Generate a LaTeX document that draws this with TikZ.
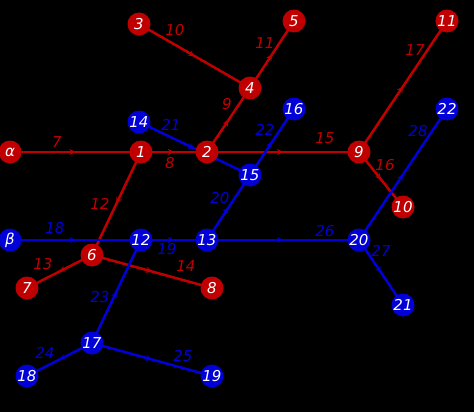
\documentclass[tikz,border=0pt]{standalone}
\usepackage{fontspec}
\setmainfont{DejaVu Sans}
\usetikzlibrary{decorations.markings,arrows.meta}
\definecolor{rd}{RGB}{192,0,0}
\definecolor{bl}{RGB}{0,0,215}
\definecolor{rdl}{RGB}{192,0,0}
\definecolor{bll}{RGB}{0,0,215}
\tikzset{
  vtx/.style={circle,minimum size=23pt,inner sep=0pt,text=white,font=\fontsize{15}{15}\selectfont\itshape},
  rv/.style={vtx,fill=rd},
  bv/.style={vtx,fill=bl},
  edg/.style={line width=2.5pt,postaction={decorate},decoration={markings,mark=at position 0.5 with {\arrow{Stealth[length=6pt,width=6pt]}}}},
  re/.style={edg,draw=rd},
  be/.style={edg,draw=bl},
  lab/.style={font=\fontsize{15}{15}\selectfont\itshape,inner sep=0pt},
  rl/.style={lab,text=rdl},
  blab/.style={lab,text=bll},
}
\begin{document}
\begin{tikzpicture}[x=1pt,y=-1pt]
\fill[black] (0,0) rectangle (474,412);
\useasboundingbox (0,0) rectangle (474,412);
% coordinates of nodes
\path
 (10,152) coordinate (pa) (141,152) coordinate (p1) (207,152) coordinate (p2)
 (139,24) coordinate (p3) (250,88) coordinate (p4) (294,21) coordinate (p5)
 (139,122) coordinate (p14) (250,175) coordinate (p15) (294,109) coordinate (p16)
 (359,152) coordinate (p9) (403,207) coordinate (p10) (447,21) coordinate (p11)
 (447,109) coordinate (p22) (10,240) coordinate (pb) (141,240) coordinate (p12)
 (207,240) coordinate (p13) (92,255) coordinate (p6) (27,288) coordinate (p7)
 (212,288) coordinate (p8) (359,240) coordinate (p20) (403,305) coordinate (p21)
 (92,343) coordinate (p17) (27,376) coordinate (p18) (212,376) coordinate (p19);
% edges
\draw[re] (pa) -- (p1);
\draw[re] (p1) -- (p2);
\draw[re] (p2) -- (p4);
\draw[re] (p3) -- (p4);
\draw[re] (p4) -- (p5);
\draw[re] (p1) -- (p6);
\draw[re] (p6) -- (p7);
\draw[re] (p6) -- (p8);
\draw[re] (p2) -- (p9);
\draw[re] (p9) -- (p10);
\draw[re] (p9) -- (p11);
\draw[be] (pb) -- (p12);
\draw[be] (p12) -- (p13);
\draw[be] (p13) -- (p15);
\draw[be] (p14) -- (p15);
\draw[be] (p15) -- (p16);
\draw[be] (p17) -- (p12);
\draw[be] (p17) -- (p18);
\draw[be] (p17) -- (p19);
\draw[be] (p13) -- (p20);
\draw[be] (p20) -- (p21);
\draw[be] (p20) -- (p22);
% nodes
\node[rv] (a) at (pa) {α};
\node[rv] (n1) at (p1) {1};
\node[rv] (n2) at (p2) {2};
\node[rv] (n3) at (p3) {3};
\node[rv] (n4) at (p4) {4};
\node[rv] (n5) at (p5) {5};
\node[rv] (n6) at (p6) {6};
\node[rv] (n7) at (p7) {7};
\node[rv] (n8) at (p8) {8};
\node[rv] (n9) at (p9) {9};
\node[rv] (n10) at (p10) {10};
\node[rv] (n11) at (p11) {11};
\node[bv] (b) at (pb) {β};
\node[bv] (n12) at (p12) {12};
\node[bv] (n13) at (p13) {13};
\node[bv] (n14) at (p14) {14};
\node[bv] (n15) at (p15) {15};
\node[bv] (n16) at (p16) {16};
\node[bv] (n17) at (p17) {17};
\node[bv] (n18) at (p18) {18};
\node[bv] (n19) at (p19) {19};
\node[bv] (n20) at (p20) {20};
\node[bv] (n21) at (p21) {21};
\node[bv] (n22) at (p22) {22};
% labels
\node[rl] (l7) at (57,142) {7};
\node[rl] (l8) at (170,163) {8};
\node[rl] (l9) at (227,104) {9};
\node[rl] (l10) at (175,30) {10};
\node[rl] (l11) at (265,43) {11};
\node[rl] (l12) at (100,204) {12};
\node[rl] (l13) at (43,264) {13};
\node[rl] (l14) at (186,266) {14};
\node[rl] (l15) at (325,138) {15};
\node[rl] (l16) at (385,165) {16};
\node[rl] (l17) at (415,50) {17};
\node[blab] (l18) at (55,228) {18};
\node[blab] (l19) at (167,249) {19};
\node[blab] (l20) at (220,198) {20};
\node[blab] (l21) at (171,125) {21};
\node[blab] (l22) at (265,130) {22};
\node[blab] (l23) at (100,297) {23};
\node[blab] (l24) at (45,353) {24};
\node[blab] (l25) at (183,356) {25};
\node[blab] (l26) at (325,231) {26};
\node[blab] (l27) at (381,251) {27};
\node[blab] (l28) at (418,131) {28};
\end{tikzpicture}
\end{document}
